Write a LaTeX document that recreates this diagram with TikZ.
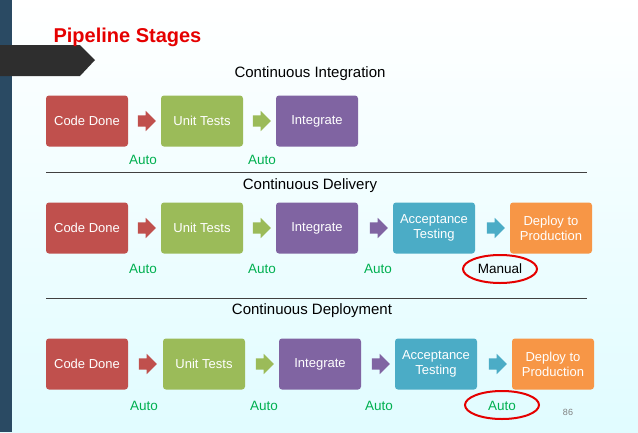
\documentclass[tikz,border=0pt]{standalone}
\usepackage{fontspec}
\setmainfont{Liberation Sans}
\usetikzlibrary{shapes.arrows,shapes.geometric}
\definecolor{cR}{HTML}{C0504D}
\definecolor{cG}{HTML}{9BBB59}
\definecolor{cP}{HTML}{8064A2}
\definecolor{cT}{HTML}{4BACC6}
\definecolor{cO}{HTML}{F79646}
\definecolor{autog}{HTML}{00B050}
\definecolor{bar}{HTML}{2A4A63}
\begin{document}
\begin{tikzpicture}[x=1pt,y=-1pt,
 box/.style={rounded corners=3pt,minimum width=82pt,minimum height=51pt,text=white,font=\fontsize{13}{15}\selectfont,align=center,inner sep=1pt},
 arr/.style={single arrow,minimum height=18pt,inner xsep=3pt,inner ysep=5.5pt,single arrow head extend=4.5pt,draw=none,font=\tiny},
 auto/.style={text=autog,font=\fontsize{13.5}{15}\selectfont},
 hdr/.style={font=\fontsize{15}{17}\selectfont},
 circ/.style={draw=red!90!black,line width=2pt,ellipse,minimum width=74pt,minimum height=28pt}]
\useasboundingbox (0,0) rectangle (638,432);
\shade[top color=white,bottom color=blue!10!cyan!12] (0,0) rectangle (638,432);
\fill[bar] (0,0) rectangle (12,432);
\fill[black!82] (0,45) -- (80,45) -- (95,60) -- (80,76) -- (0,76) -- cycle;
\node[text=red!90!black,font=\bfseries\fontsize{20}{22}\selectfont,anchor=west] (title) at (50,37) {Pipeline Stages};
% row 1
\node[hdr] (h1) at (310,74) {Continuous Integration};
\node[box,fill=cR] (a1) at (87,121) {Code Done};
\node[box,fill=cG] (b1) at (202,121) {Unit Tests};
\node[box,fill=cP] (c1) at (317,121) {Integrate};
\node[arr,fill=cR] (ab1) at (144,121) {};
\node[arr,fill=cG] (bc1) at (259,121) {};
\node[auto] (u1) at (143,160) {Auto};
\node[auto] (u2) at (262,160) {Auto};
\coordinate (l1a) at (46,172); \coordinate (l1b) at (587,172);
\draw[black!75,line width=1pt] (l1a) -- (l1b);
% row 2
\node[hdr] (h2) at (310,186) {Continuous Delivery};
\node[box,fill=cR] (a2) at (87,228) {Code Done};
\node[box,fill=cG] (b2) at (202,228) {Unit Tests};
\node[box,fill=cP] (c2) at (317,228) {Integrate};
\node[box,fill=cT] (d2) at (434,228) {Acceptance\\Testing};
\node[box,fill=cO] (e2) at (551,228) {Deploy to\\Production};
\node[arr,fill=cR] (ab2) at (144,228) {};
\node[arr,fill=cG] (bc2) at (259,228) {};
\node[arr,fill=cP] (cd2) at (376,228) {};
\node[arr,fill=cT] (de2) at (493,228) {};
\node[auto] (v1) at (143,269) {Auto};
\node[auto] (v2) at (262,269) {Auto};
\node[auto] (v3) at (378,269) {Auto};
\node[font=\fontsize{13.5}{15}\selectfont] (m2) at (500,269) {Manual};
\node[circ] (o2) at (500,269) {};
\coordinate (l2a) at (46,298); \coordinate (l2b) at (587,298);
\draw[black!75,line width=1pt] (l2a) -- (l2b);
% row 3
\node[hdr] (h3) at (312,311) {Continuous Deployment};
\node[box,fill=cR] (a3) at (87,364) {Code Done};
\node[box,fill=cG] (b3) at (204,364) {Unit Tests};
\node[box,fill=cP] (c3) at (320,364) {Integrate};
\node[box,fill=cT] (d3) at (436,364) {Acceptance\\Testing};
\node[box,fill=cO] (e3) at (553,364) {Deploy to\\Production};
\node[arr,fill=cR] (ab3) at (145,364) {};
\node[arr,fill=cG] (bc3) at (262,364) {};
\node[arr,fill=cP] (cd3) at (378,364) {};
\node[arr,fill=cT] (de3) at (495,364) {};
\node[auto] (w1) at (144,406) {Auto};
\node[auto] (w2) at (264,406) {Auto};
\node[auto] (w3) at (379,406) {Auto};
\node[auto] (w4) at (502,406) {Auto};
\node[circ] (o3) at (502,405) {};
\node[text=black!50,font=\fontsize{9}{10}\selectfont] (pg) at (568,412) {86};
\end{tikzpicture}
\end{document}
